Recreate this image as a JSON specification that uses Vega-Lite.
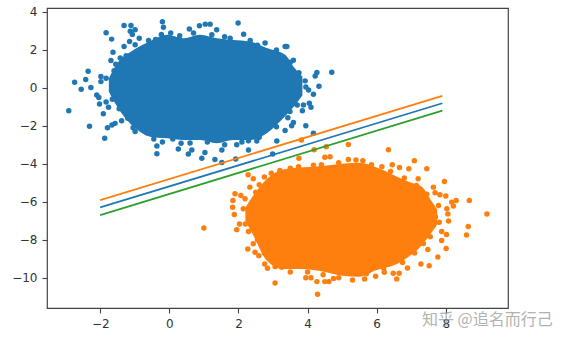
{"$schema":"https://vega.github.io/schema/vega-lite/v6.json","width":461,"height":300,"autosize":"none","padding":{"left":47,"top":8,"right":62,"bottom":37},"background":"white",
"config":{"view":{"stroke":"#444","strokeWidth":1.2},"axis":{"grid":false,"domain":false,"title":null,"tickColor":"#444","tickSize":5,"tickWidth":1.1,"labelColor":"#333","labelFont":"DejaVu Sans","labelFontSize":12,"labelPadding":5}},
"datasets":{
"core":[
{"c":"a","x":-1.75,"lo":-0.2,"hi":0.5},{"c":"a","x":-1.57,"lo":-0.81,"hi":1.13},{"c":"a","x":-1.04,"lo":-2.04,"hi":2.0},{"c":"a","x":-0.56,"lo":-2.57,"hi":2.45},{"c":"a","x":-0.07,"lo":-2.66,"hi":2.8},{"c":"a","x":0.41,"lo":-2.75,"hi":2.62},{"c":"a","x":0.89,"lo":-2.75,"hi":2.8},{"c":"a","x":1.37,"lo":-2.92,"hi":2.62},{"c":"a","x":1.85,"lo":-2.75,"hi":2.53},{"c":"a","x":2.34,"lo":-2.75,"hi":2.45},{"c":"a","x":2.82,"lo":-2.39,"hi":2.1},{"c":"a","x":3.35,"lo":-1.5,"hi":1.74},{"c":"a","x":3.6,"lo":-1.0,"hi":1.1},{"c":"a","x":3.85,"lo":-0.4,"hi":0.6},
{"c":"b","x":2.2,"lo":-7.0,"hi":-6.3},{"c":"b","x":2.43,"lo":-7.78,"hi":-5.67},{"c":"b","x":2.82,"lo":-9.1,"hi":-4.8},{"c":"b","x":3.3,"lo":-9.55,"hi":-4.3},{"c":"b","x":3.8,"lo":-9.55,"hi":-4.2},{"c":"b","x":4.5,"lo":-9.7,"hi":-4.1},{"c":"b","x":5.0,"lo":-9.9,"hi":-4.0},{"c":"b","x":5.5,"lo":-9.95,"hi":-3.95},{"c":"b","x":6.0,"lo":-9.6,"hi":-4.2},{"c":"b","x":6.5,"lo":-9.35,"hi":-4.6},{"c":"b","x":7.0,"lo":-8.8,"hi":-5.0},{"c":"b","x":7.3,"lo":-8.3,"hi":-5.2},{"c":"b","x":7.6,"lo":-7.6,"hi":-6.0},{"c":"b","x":7.75,"lo":-7.2,"hi":-6.4}],
"dots":[
{"c":"a","x":-2.91,"y":-1.21},{"c":"a","x":-2.74,"y":0.3},{"c":"a","x":-2.55,"y":-0.07},{"c":"a","x":-2.42,"y":0.44},{"c":"a","x":-2.35,"y":0.88},{"c":"a","x":-2.27,"y":0.02},{"c":"a","x":-2.31,"y":-2.02},{"c":"a","x":-1.87,"y":-2.66},{"c":"a","x":-1.79,"y":-2.1},{"c":"a","x":-1.66,"y":-1.95},{"c":"a","x":-1.57,"y":-1.87},{"c":"a","x":-1.38,"y":-1.73},{"c":"a","x":-2.1,"y":-0.37},{"c":"a","x":-2.04,"y":-0.51},{"c":"a","x":-2.02,"y":-0.85},{"c":"a","x":-1.91,"y":-1.36},{"c":"a","x":-1.83,"y":-0.74},{"c":"a","x":-1.76,"y":-1.02},{"c":"a","x":-1.98,"y":0.6},{"c":"a","x":-1.98,"y":0.33},{"c":"a","x":-1.83,"y":0.51},{"c":"a","x":-1.83,"y":2.9},{"c":"a","x":-1.67,"y":2.57},{"c":"a","x":-1.31,"y":3.29},{"c":"a","x":-1.11,"y":3.29},{"c":"a","x":-1.13,"y":2.98},{"c":"a","x":-0.99,"y":3.06},{"c":"a","x":-1.07,"y":2.82},{"c":"a","x":-0.87,"y":2.62},{"c":"a","x":-1.63,"y":1.88},{"c":"a","x":-1.69,"y":1.44},{"c":"a","x":-1.42,"y":1.57},{"c":"a","x":-1.31,"y":2.18},{"c":"a","x":-1.15,"y":2.45},{"c":"a","x":-0.99,"y":2.27},{"c":"a","x":-0.2,"y":3.49},{"c":"a","x":-0.17,"y":3.2},{"c":"a","x":-0.23,"y":2.82},{"c":"a","x":0.04,"y":2.89},{"c":"a","x":0.58,"y":3.1},{"c":"a","x":0.7,"y":2.89},{"c":"a","x":0.87,"y":3.27},{"c":"a","x":1.04,"y":3.36},{"c":"a","x":1.18,"y":3.36},{"c":"a","x":1.37,"y":3.06},{"c":"a","x":1.23,"y":2.8},{"c":"a","x":1.99,"y":3.42},{"c":"a","x":2.15,"y":2.83},{"c":"a","x":1.76,"y":2.62},{"c":"a","x":2.34,"y":2.5},{"c":"a","x":2.77,"y":2.36},{"c":"a","x":3.03,"y":1.74},{"c":"a","x":3.35,"y":2.18},{"c":"a","x":-0.36,"y":-3.47},{"c":"a","x":-0.36,"y":-3.06},{"c":"a","x":0.34,"y":-2.92},{"c":"a","x":0.26,"y":-3.22},{"c":"a","x":0.65,"y":-3.27},{"c":"a","x":0.55,"y":-3.49},{"c":"a","x":0.94,"y":-3.71},{"c":"a","x":1.03,"y":-3.4},{"c":"a","x":1.32,"y":-3.77},{"c":"a","x":1.52,"y":-3.93},{"c":"a","x":1.92,"y":-3.75},{"c":"a","x":1.52,"y":-3.27},{"c":"a","x":1.95,"y":-3.0},{"c":"a","x":2.29,"y":-3.27},{"c":"a","x":2.29,"y":-2.78},{"c":"a","x":2.99,"y":-3.49},{"c":"a","x":3.11,"y":-2.8},{"c":"a","x":2.53,"y":-2.8},{"c":"a","x":-0.99,"y":-2.3},{"c":"a","x":-0.65,"y":-2.36},{"c":"a","x":3.4,"y":2.18},{"c":"a","x":3.59,"y":1.46},{"c":"a","x":4.7,"y":0.83},{"c":"a","x":4.27,"y":0.81},{"c":"a","x":4.22,"y":0.63},{"c":"a","x":4.33,"y":0.09},{"c":"a","x":3.93,"y":0.37},{"c":"a","x":4.17,"y":-0.33},{"c":"a","x":4.03,"y":-0.11},{"c":"a","x":3.88,"y":-0.9},{"c":"a","x":4.1,"y":-1.02},{"c":"a","x":3.85,"y":-1.21},{"c":"a","x":3.43,"y":-1.57},{"c":"a","x":3.59,"y":-1.83},{"c":"a","x":3.54,"y":-2.0},{"c":"a","x":3.95,"y":-2.0},{"c":"a","x":3.35,"y":-2.25},{"c":"a","x":4.17,"y":-2.39},{"c":"a","x":3.49,"y":-1.25},{"c":"a","x":4.05,"y":-0.81},{"c":"a","x":-1.6,"y":0.9},{"c":"a","x":-1.55,"y":1.25},{"c":"a","x":-1.25,"y":1.7},{"c":"a","x":-1.65,"y":-0.6},{"c":"a","x":-1.45,"y":-1.1},{"c":"a","x":-1.2,"y":-1.6},{"c":"a","x":-1.05,"y":-2.1},{"c":"a","x":-0.75,"y":-2.1},{"c":"a","x":-0.45,"y":-2.7},{"c":"a","x":-0.2,"y":-2.85},{"c":"a","x":0.1,"y":-2.7},{"c":"a","x":0.6,"y":-2.9},{"c":"a","x":1.1,"y":-2.85},{"c":"a","x":1.6,"y":-3.0},{"c":"a","x":2.1,"y":-2.85},{"c":"a","x":2.6,"y":-2.6},{"c":"a","x":3.1,"y":-2.05},{"c":"a","x":-0.6,"y":2.5},{"c":"a","x":-0.4,"y":2.55},{"c":"a","x":0.3,"y":2.75},{"c":"a","x":1.6,"y":2.7},{"c":"a","x":2.55,"y":2.25},{"c":"a","x":3.1,"y":2.0},{"c":"a","x":3.5,"y":1.35},{"c":"a","x":3.75,"y":0.8},{"c":"a","x":3.95,"y":0.05},{"c":"a","x":3.7,"y":-0.9},
{"c":"b","x":1.0,"y":-7.39},{"c":"b","x":3.06,"y":-10.28},{"c":"b","x":1.9,"y":-5.58},{"c":"b","x":2.07,"y":-5.67},{"c":"b","x":1.84,"y":-5.93},{"c":"b","x":1.83,"y":-6.29},{"c":"b","x":1.88,"y":-6.67},{"c":"b","x":2.03,"y":-7.17},{"c":"b","x":1.95,"y":-7.47},{"c":"b","x":2.2,"y":-7.17},{"c":"b","x":2.29,"y":-7.57},{"c":"b","x":2.43,"y":-8.22},{"c":"b","x":2.27,"y":-8.49},{"c":"b","x":2.48,"y":-8.66},{"c":"b","x":2.59,"y":-8.84},{"c":"b","x":2.76,"y":-9.28},{"c":"b","x":2.84,"y":-9.51},{"c":"b","x":3.06,"y":-9.42},{"c":"b","x":3.25,"y":-9.45},{"c":"b","x":2.28,"y":-4.58},{"c":"b","x":2.43,"y":-4.79},{"c":"b","x":2.33,"y":-5.23},{"c":"b","x":2.19,"y":-5.84},{"c":"b","x":2.14,"y":-6.37},{"c":"b","x":4.29,"y":-10.88},{"c":"b","x":3.95,"y":-10.0},{"c":"b","x":4.1,"y":-10.0},{"c":"b","x":4.27,"y":-10.21},{"c":"b","x":4.5,"y":-10.21},{"c":"b","x":4.62,"y":-10.21},{"c":"b","x":4.75,"y":-10.04},{"c":"b","x":5.3,"y":-10.12},{"c":"b","x":5.65,"y":-10.07},{"c":"b","x":5.97,"y":-9.93},{"c":"b","x":6.22,"y":-9.72},{"c":"b","x":6.48,"y":-9.77},{"c":"b","x":6.65,"y":-9.77},{"c":"b","x":6.58,"y":-10.07},{"c":"b","x":6.89,"y":-9.49},{"c":"b","x":7.28,"y":-9.28},{"c":"b","x":7.52,"y":-9.37},{"c":"b","x":7.77,"y":-8.91},{"c":"b","x":7.48,"y":-8.52},{"c":"b","x":8.01,"y":-8.47},{"c":"b","x":7.88,"y":-8.04},{"c":"b","x":8.02,"y":-7.73},{"c":"b","x":7.88,"y":-7.57},{"c":"b","x":8.08,"y":-7.02},{"c":"b","x":8.6,"y":-7.75},{"c":"b","x":8.65,"y":-7.31},{"c":"b","x":9.19,"y":-6.65},{"c":"b","x":8.68,"y":-5.93},{"c":"b","x":8.3,"y":-5.93},{"c":"b","x":8.17,"y":-6.02},{"c":"b","x":8.22,"y":-6.23},{"c":"b","x":8.0,"y":-5.7},{"c":"b","x":7.83,"y":-5.63},{"c":"b","x":7.96,"y":-4.93},{"c":"b","x":7.64,"y":-5.23},{"c":"b","x":7.69,"y":-5.53},{"c":"b","x":7.2,"y":-4.79},{"c":"b","x":7.5,"y":-6.02},{"c":"b","x":7.79,"y":-6.2},{"c":"b","x":8.03,"y":-6.37},{"c":"b","x":8.06,"y":-6.64},{"c":"b","x":7.81,"y":-7.08},{"c":"b","x":7.64,"y":-7.25},{"c":"b","x":3.82,"y":-2.75},{"c":"b","x":4.19,"y":-3.26},{"c":"b","x":4.54,"y":-3.1},{"c":"b","x":5.18,"y":-2.98},{"c":"b","x":6.34,"y":-3.26},{"c":"b","x":3.75,"y":-3.71},{"c":"b","x":4.65,"y":-3.63},{"c":"b","x":4.5,"y":-3.65},{"c":"b","x":6.45,"y":-4.05},{"c":"b","x":7.09,"y":-3.84},{"c":"b","x":6.66,"y":-4.19},{"c":"b","x":6.93,"y":-4.26},{"c":"b","x":7.45,"y":-4.26},{"c":"b","x":5.6,"y":-3.84},{"c":"b","x":5.4,"y":-3.8},{"c":"b","x":5.18,"y":-3.77},{"c":"b","x":6.15,"y":-4.15},{"c":"b","x":3.5,"y":-4.24},{"c":"b","x":3.74,"y":-4.15},{"c":"b","x":4.17,"y":-4.07},{"c":"b","x":2.6,"y":-5.1},{"c":"b","x":2.75,"y":-4.7},{"c":"b","x":2.95,"y":-4.5},{"c":"b","x":3.2,"y":-4.35},{"c":"b","x":2.5,"y":-5.5},{"c":"b","x":2.35,"y":-6.7},{"c":"b","x":2.55,"y":-8.0},{"c":"b","x":2.75,"y":-8.7},{"c":"b","x":3.0,"y":-9.15},{"c":"b","x":3.5,"y":-9.7},{"c":"b","x":4.0,"y":-9.7},{"c":"b","x":4.45,"y":-9.85},{"c":"b","x":4.9,"y":-10.0},{"c":"b","x":5.7,"y":-9.8},{"c":"b","x":6.2,"y":-9.5},{"c":"b","x":6.75,"y":-9.2},{"c":"b","x":7.1,"y":-8.7},{"c":"b","x":7.35,"y":-8.2},{"c":"b","x":7.55,"y":-7.85},{"c":"b","x":7.7,"y":-6.8},{"c":"b","x":7.45,"y":-5.6},{"c":"b","x":7.15,"y":-5.15},{"c":"b","x":6.8,"y":-4.75},{"c":"b","x":6.4,"y":-4.4},{"c":"b","x":5.85,"y":-4.05},{"c":"b","x":4.9,"y":-3.95},{"c":"b","x":4.4,"y":-4.05}],
"lines":[{"s":"a","x":-2,"y":-6.3},{"s":"a","x":7.9,"y":-0.81},{"s":"b","x":-2,"y":-5.91},{"s":"b","x":7.9,"y":-0.42},{"s":"g","x":-2,"y":-6.7},{"s":"g","x":7.9,"y":-1.2}],
"mark":[{"x":9.2,"y":-12.25,"t":"知乎 @追名而行己"}]},
"layer":[
{"data":{"name":"core"},"mark":{"type":"area","interpolate":"monotone","orient":"vertical"},"encoding":{"x":{"field":"x","type":"quantitative","scale":{"domain":[-3.54,9.8],"nice":false,"zero":false},"axis":{"values":[-2,0,2,4,6,8],"format":"d"}},"y":{"field":"lo","type":"quantitative","scale":{"domain":[-11.6,4.21],"nice":false,"zero":false},"axis":{"values":[-10,-8,-6,-4,-2,0,2,4],"format":"d"}},"y2":{"field":"hi"},"color":{"field":"c","type":"nominal","scale":{"domain":["a","b","g"],"range":["#1f77b4","#ff7f0e","#2ca02c"]},"legend":null}}},
{"data":{"name":"dots"},"mark":{"type":"circle","size":30,"opacity":1},"encoding":{"x":{"field":"x","type":"quantitative"},"y":{"field":"y","type":"quantitative"},"color":{"field":"c","type":"nominal","legend":null}}},
{"data":{"name":"lines"},"mark":{"type":"line","strokeWidth":1.8},"encoding":{"x":{"field":"x","type":"quantitative"},"y":{"field":"y","type":"quantitative"},"color":{"field":"s","type":"nominal","legend":null}}},
{"data":{"name":"mark"},"mark":{"type":"text","font":"Noto Sans CJK SC","fontSize":16,"color":"#999","opacity":0.75,"align":"center","baseline":"middle"},"encoding":{"x":{"field":"x","type":"quantitative"},"y":{"field":"y","type":"quantitative"},"text":{"field":"t"}}}
]}
